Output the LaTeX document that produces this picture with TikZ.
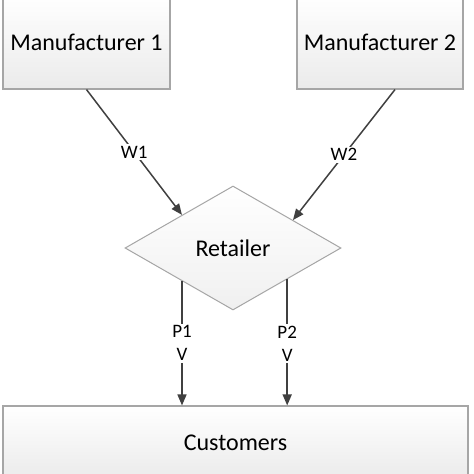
\documentclass[tikz,border=0pt]{standalone}
\usepackage{fontspec}
\setmainfont{Carlito}
\usetikzlibrary{shapes.geometric,arrows.meta}
\definecolor{edgegray}{HTML}{A6A6A6}
\definecolor{arrgray}{HTML}{404040}
\begin{document}
\begin{tikzpicture}[x=1pt,y=-1pt,
  boxnode/.style={draw=edgegray,line width=1.1pt,top color=white,bottom color=black!8,
    inner sep=0pt,font=\fontsize{24}{26}\selectfont},
  decision/.style={diamond,draw=edgegray,line width=1pt,top color=white,bottom color=black!6,
    inner sep=0pt,minimum width=216pt,minimum height=124pt,font=\fontsize{24}{26}\selectfont},
  arr/.style={draw=arrgray,line width=1.5pt,-{Triangle[length=11pt,width=9pt]}},
  lbl/.style={fill=white,inner sep=2pt,font=\fontsize{19}{23}\selectfont,text=black}]
\useasboundingbox (0,0) rectangle (474,474);
\fill[white] (0,0) rectangle (474,474);
\node[boxnode,minimum width=167pt,minimum height=94pt] (m1) at (86.5,42) {Manufacturer 1};
\node[boxnode,minimum width=166pt,minimum height=94pt] (m2) at (380,42) {Manufacturer 2};
\node[decision] (ret) at (233,248) {Retailer};
\node[boxnode,minimum width=465pt,minimum height=74pt] (cust) at (235.5,443) {Customers};
\draw[arr] (m1.south) -- node[lbl] {W1} (ret.147);
\draw[arr] ([xshift=15pt]m2.south) -- node[lbl] {W2} (ret.25);
\draw[arr] (ret.213.4) -- node[lbl,align=center] {P1\\V} (ret.213.4 |- cust.north);
\draw[arr] (ret.330) -- node[lbl,align=center,yshift=-1pt] {P2\\V} (ret.330 |- cust.north);
\end{tikzpicture}
\end{document}
